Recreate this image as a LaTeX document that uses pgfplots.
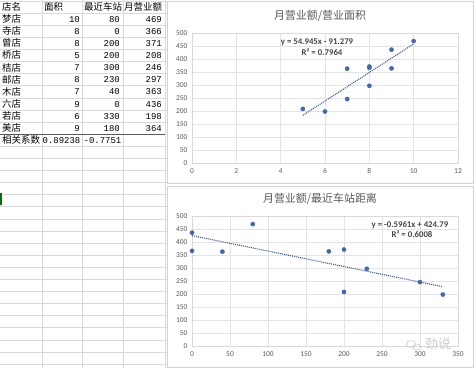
\documentclass[border=0pt]{standalone}
\usepackage{fontspec}
\setmainfont{Carlito}
\newfontfamily\cjk{Noto Sans CJK SC}
\newfontfamily\mono{Liberation Mono}
\usepackage{pgfplots}
\pgfplotsset{compat=1.18}
\definecolor{xlblue}{HTML}{4068B0}
\definecolor{xlgray}{HTML}{595959}
\definecolor{cellgrid}{HTML}{D9D9D9}
\pgfplotsset{
  xlscatter/.style={
    scale only axis, width=266bp, height=130bp,
    ymin=0, ymax=500, ytick={0,50,...,500},
    grid=major, major grid style={draw=gray!22, line width=0.5bp},
    axis line style={draw=gray!30, line width=0.5bp},
    major tick length=0pt,
    tick label style={font=\fontsize{7.5}{8}\selectfont, text=xlgray},
    /pgf/number format/assume math mode=true,
    xticklabel style={yshift=-2bp},
    yticklabel style={xshift=-1bp},
    clip=false,
  },
  xlpts/.style={only marks, mark=*, mark size=2.1bp, mark options={fill=xlblue, draw=xlblue}},
  xltrend/.style={xlblue!85!black, line width=1.1bp, dash pattern=on 1bp off 1bp},
}
\begin{document}
\begin{tikzpicture}
\begin{scope}[x=1bp,y=-1bp]
\path[use as bounding box] (0,0) rectangle (474,368);
\fill[white] (0,0) rectangle (474,368);
% spreadsheet cell grid
\foreach \k in {0,...,30} \draw[cellgrid, line width=0.5bp] (0,{1+12.1*\k}) -- (474,{1+12.1*\k});
\foreach \x in {42,82,123,165} \draw[cellgrid, line width=0.5bp] (\x,0) -- (\x,368);
\draw[black!65, line width=0.9bp] (0,134.1) -- (165,134.1);
\fill[green!45!black] (0,193) rectangle (2,205);
% table
\begin{scope}[every node/.style={inner sep=0pt, font=\cjk\fontsize{9.5}{10}\selectfont}]
\node[anchor=west] at (2,7) {店名};
\node[anchor=west] at (44,7) {面积};
\node[anchor=west] at (84,7) {最近车站};
\node[anchor=west] at (124,7) {月营业额};
\foreach \n [count=\i] in {梦店,寺店,曾店,桥店,桔店,邮店,木店,六店,若店,美店}
  \node[anchor=west] at (2,{7+12.1*\i}) {\n};
\node[anchor=west] at (2,140.1) {相关系数};
\end{scope}
\begin{scope}[every node/.style={inner sep=0pt, font=\mono\fontsize{9}{10}\selectfont}]
\foreach \a/\b/\c [count=\i] in {10/80/469,8/0/366,8/200/371,5/200/208,7/300/246,8/230/297,7/40/363,9/0/436,6/330/198,9/180/364}{
  \node[anchor=east] at (80,{7.3+12.1*\i}) {\a};
  \node[anchor=east] at (120,{7.3+12.1*\i}) {\b};
  \node[anchor=east] at (162,{7.3+12.1*\i}) {\c};
}
\node[anchor=east] at (80.5,140.4) {0.89238};
\node[anchor=west] at (83.5,140.4) {-0.7751};
\end{scope}
% chart boxes
\filldraw[fill=white, draw=gray!35, line width=0.5bp] (167,1) rectangle (473,183);
\filldraw[fill=white, draw=gray!35, line width=0.5bp] (167,186) rectangle (473,367);
\node[font=\cjk\fontsize{11}{12}\selectfont, text=xlgray] at (320,16) {月营业额/营业面积};
\node[font=\cjk\fontsize{11}{12}\selectfont, text=xlgray] at (320,199) {月营业额/最近车站距离};
\end{scope}

\begin{axis}[xlscatter, at={(192bp,-163bp)}, anchor=south west,
  xmin=0, xmax=12, xtick={0,2,...,12}]
\addplot[xlpts] coordinates {(10,469) (8,366) (8,371) (5,208) (7,246) (8,297) (7,363) (9,436) (6,198) (9,364)};
\addplot[xltrend] coordinates {(5,183.446) (10,458.171)};
\end{axis}

\begin{axis}[xlscatter, at={(192bp,-346bp)}, anchor=south west,
  xmin=0, xmax=350, xtick={0,50,...,350}]
\addplot[xlpts] coordinates {(80,469) (0,366) (200,371) (200,208) (300,246) (230,297) (40,363) (0,436) (330,198) (180,364)};
\addplot[xltrend] coordinates {(0,424.79) (330,228.077)};
\end{axis}

\begin{scope}[x=1bp,y=-1bp]
\begin{scope}[every node/.style={font=\bfseries\fontsize{8.8}{9}\selectfont, text=black!72, inner sep=0pt}]
\node at (317,42) {y = 54.945x - 91.279};
\node at (322,52) {R² = 0.7964};
\node at (410,225) {y = -0.5961x + 424.79};
\node at (412,234.5) {R² = 0.6008};
\end{scope}
% watermark
\draw[gray!40, line width=0.6bp] (411,344) ellipse (4.5bp and 3.5bp);
\draw[gray!40, line width=0.6bp] (417,347) ellipse (4bp and 3bp);
\node[font=\cjk\fontsize{13}{14}\selectfont, text=gray!40] at (438,344) {劲说};
\end{scope}
\end{tikzpicture}
\end{document}
